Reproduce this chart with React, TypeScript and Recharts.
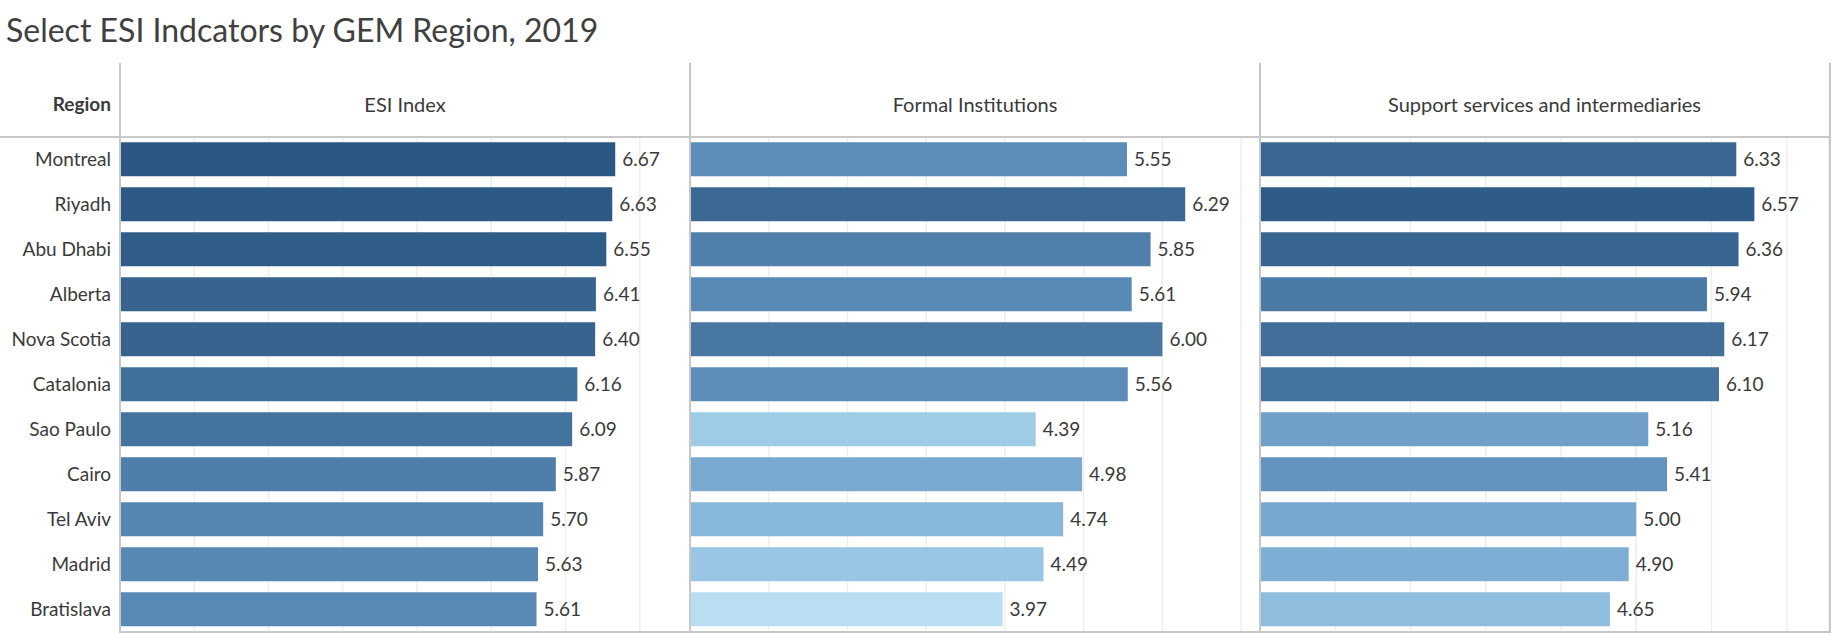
import React from "react"
import { BarChart, Bar, XAxis, YAxis, CartesianGrid, Cell, LabelList } from "recharts"

const regions = ["Montreal", "Riyadh", "Abu Dhabi", "Alberta", "Nova Scotia", "Catalonia", "Sao Paulo", "Cairo", "Tel Aviv", "Madrid", "Bratislava"]
const esiIndex = [6.67, 6.63, 6.55, 6.41, 6.40, 6.16, 6.09, 5.87, 5.70, 5.63, 5.61]
const formalInstitutions = [5.55, 6.29, 5.85, 5.61, 6.00, 5.56, 4.39, 4.98, 4.74, 4.49, 3.97]
const supportServices = [6.33, 6.57, 6.36, 5.94, 6.17, 6.10, 5.16, 5.41, 5.00, 4.90, 4.65]
const panelTitles = ["ESI Index", "Formal Institutions", "Support services and intermediaries"]
const gridTicks = [1, 2, 3, 4, 5, 6, 7]

const FONT = "Lato, 'Noto Sans', sans-serif"
const TEXT = "#3a3a3a"
const DIVIDER = "#c8c8c8"

// sequential blue, like tableau's default
const colorStops: [number, number[]][] = [
    [0, [185, 221, 241]],
    [0.17, [156, 202, 230]],
    [0.37, [122, 170, 208]],
    [0.6, [90, 139, 183]],
    [0.87, [58, 104, 146]],
    [1, [42, 87, 131]],
]

const allValues = [...esiIndex, ...formalInstitutions, ...supportServices]
const minV = Math.min(...allValues)
const maxV = Math.max(...allValues)

function colorFor(v: number) {
    const t = (v - minV) / (maxV - minV)
    for (let i = 1; i < colorStops.length; i++) {
        const [t1, c1] = colorStops[i]
        const [t0, c0] = colorStops[i - 1]
        if (t <= t1) {
            const k = (t - t0) / (t1 - t0)
            const c = c0.map((a, j) => Math.round(a + (c1[j] - a) * k))
            return `rgb(${c[0]},${c[1]},${c[2]})`
        }
    }
    return "rgb(42,87,131)"
}

const series = [esiIndex, formalInstitutions, supportServices]
const panelLeft = [120, 690, 1260]
const panelWidth = [570, 570, 569]
const TOP = 137
const HEIGHT = 495

function Panel({ idx }: { idx: number }) {
    const values = series[idx]
    const data = regions.map((r, i) => ({ region: r, value: values[i] }))
    const max = Math.max(...values) * 1.151
    const first = idx === 0
    const yw = first ? 120 : 0
    return (
        <div style={{ position: "absolute", left: panelLeft[idx] - yw, top: TOP }}>
            <BarChart
                width={panelWidth[idx] + yw}
                height={HEIGHT}
                data={data}
                layout="vertical"
                margin={{ top: 0, right: 0, bottom: 0, left: 0 }}
                barCategoryGap="11.7%"
            >
                <CartesianGrid horizontal={false} stroke="#efefef" strokeWidth={1.5} />
                <XAxis type="number" domain={[0, max]} ticks={gridTicks} hide />
                <YAxis
                    type="category"
                    dataKey="region"
                    width={yw}
                    hide={!first}
                    axisLine={false}
                    tickLine={false}
                    tickMargin={3}
                    tick={{ fill: TEXT, fontSize: 19, fontFamily: FONT }}
                />
                <Bar dataKey="value" isAnimationActive={false}>
                    {data.map((d, i) => (
                        <Cell key={i} fill={colorFor(d.value)} />
                    ))}
                    <LabelList
                        dataKey="value"
                        position="right"
                        offset={7}
                        formatter={(v: any) => Number(v).toFixed(2)}
                        style={{ fill: TEXT, fontSize: 19, fontFamily: FONT }}
                    />
                </Bar>
            </BarChart>
        </div>
    )
}

export default function App() {
    const line = (s: React.CSSProperties) => <div style={{ position: "absolute", background: DIVIDER, ...s }} />
    return (
        <div style={{ position: "absolute", left: 0, top: 0, width: 1833, height: 633, background: "#fff", fontFamily: FONT, color: TEXT }}>
            <div style={{ position: "absolute", left: 6, top: 14, fontSize: 32, lineHeight: "32px", color: "#404040", whiteSpace: "nowrap" }}>
                Select ESI Indcators by GEM Region, 2019
            </div>

            <div style={{ position: "absolute", left: 0, width: 111, top: 92, lineHeight: "24px", fontSize: 19, fontWeight: 700, textAlign: "right" }}>
                Region
            </div>
            {panelTitles.map((t, i) => (
                <div key={t} style={{ position: "absolute", left: panelLeft[i], width: panelWidth[i], top: 92, lineHeight: "24px", fontSize: 20, textAlign: "center" }}>
                    {t}
                </div>
            ))}

            {panelTitles.map((_, i) => <Panel key={i} idx={i} />)}

            {line({ left: 0, top: 136, width: 1831, height: 2 })}
            {line({ left: 120, top: 631, width: 1711, height: 2 })}
            {line({ left: 119, top: 63, width: 2, height: 570 })}
            {line({ left: 689, top: 63, width: 2, height: 570 })}
            {line({ left: 1259, top: 63, width: 2, height: 570 })}
            {line({ left: 1829, top: 63, width: 2, height: 570 })}
        </div>
    )
}
